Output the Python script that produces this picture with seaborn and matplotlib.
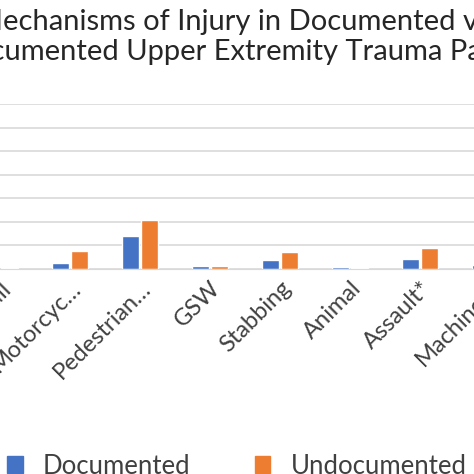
import matplotlib
matplotlib.use("Agg")
import matplotlib.pyplot as plt
import seaborn as sns
import pandas as pd
from matplotlib.patches import Patch

categories = ["Fall", "Motorcyc…", "Pedestrian…", "GSW", "Stabbing", "Animal", "Assault*", "Machinery", "Accidental"]
documented = [0.2, 2.5, 14, 1.2, 3.8, 0.9, 4.2, 1.7, 1.0]
undocumented = [0.5, 7.6, 21, 1.2, 7.2, 0.4, 8.9, 3.0, 2.0]
series = ["Documented", "Undocumented"]
colors = ["#4472C4", "#ED7D31"]

df = pd.DataFrame({
    "cat": categories * 2,
    "val": documented + undocumented,
    "grp": [series[0]] * len(categories) + [series[1]] * len(categories),
})

sns.set_style("white")
plt.rcParams["font.family"] = ["Lato", "DejaVu Sans"]

fig = plt.figure(figsize=(4.74, 4.74), dpi=100)
ax = fig.add_axes([-35 / 474, 205 / 474, 630 / 474, 165 / 474])
sns.barplot(data=df, x="cat", y="val", hue="grp", palette=colors, width=0.57,
            gap=0.15, ax=ax, legend=False, saturation=1)
ax.set_ylim(0, 70)
ax.set_xlim(-0.5, 8.5)
ax.set_yticks(range(0, 71, 10))
ax.set_yticklabels([])
ax.tick_params(axis="y", length=0)
ax.tick_params(axis="x", length=0, labelsize=17, colors="#404040", pad=6)
ax.yaxis.grid(True, color="#D9D9D9", linewidth=1.2)
ax.set_axisbelow(True)
for s in ["top", "left", "right"]:
    ax.spines[s].set_visible(False)
ax.spines["bottom"].set_color("#D9D9D9")
plt.setp(ax.get_xticklabels(), rotation=45, ha="right", rotation_mode="anchor")
ax.set_xlabel("")
ax.set_ylabel("")

fig.text(0.5, 1 - 37 / 474, "Mechanisms of Injury in Documented vs.\nUndocumented Upper Extremity Trauma Patients",
         ha="center", va="center", fontsize=21, color="#262626", linespacing=1.2)

handles = [Patch(color=c) for c in colors]
fig.legend(handles, series, loc="center", bbox_to_anchor=(0.5, 1 - 466 / 474), ncol=2,
           frameon=False, fontsize=18.5, handlelength=0.6, handleheight=0.6,
           columnspacing=2.5, labelcolor="#404040")

fig.savefig("out.png", dpi=100)
